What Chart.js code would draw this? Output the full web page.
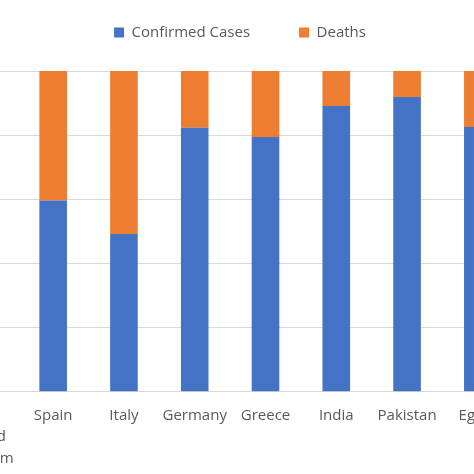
<!DOCTYPE html>
<html>
<head>
<meta charset="utf-8">
<script src="https://cdn.jsdelivr.net/npm/chart.js@4.4.1/dist/chart.umd.min.js"></script>
<style>
    html, body { margin: 0; padding: 0; background: #ffffff; overflow: hidden; }
    body { width: 474px; height: 474px; position: relative; }
    /* the reference is a crop of a wider chart, so the canvas hangs off both sides */
    #wrap { position: absolute; left: -104px; top: 0; width: 700px; height: 474px; }
</style>
</head>
<body>
<div id="wrap"><canvas id="shareChart"></canvas></div>
<script>
// Share of confirmed cases vs deaths per country (100% stacked)
// first and last categories sit outside the cropped view
const countries = [['The', 'United', 'Kingdom'], 'Spain', 'Italy', 'Germany', 'Greece', 'India', 'Pakistan', 'Egypt', 'Iran'];
const confirmedShare = [86.0, 59.6, 49.2, 82.3, 79.4, 89.1, 91.9, 82.5, 85.0];
const deathsShare = [14.0, 40.4, 50.8, 17.7, 20.6, 10.9, 8.1, 17.5, 15.0];
const yTicks = [0, 20, 40, 60, 80, 100];

const textColor = '#595959';
const gridColor = '#d9d9d9';
const font = { family: '"Open Sans", sans-serif', size: 15 };

// fixed legend height so the plot starts where the reference does
const legendHeight = {
    id: 'legendHeight',
    beforeInit(chart) {
        const fit = chart.legend.fit;
        chart.legend.fit = function() {
            fit.call(this);
            this.height = 95;
        };
    }
};

document.addEventListener('DOMContentLoaded', function() {
    const ctx = document.getElementById('shareChart');
    new Chart(ctx, {
        type: 'bar',
        data: {
            labels: countries,
            datasets: [{
                label: 'Confirmed Cases',
                data: confirmedShare,
                backgroundColor: '#4472c4',
                categoryPercentage: 1,
                barPercentage: 0.39
            }, {
                label: 'Deaths',
                data: deathsShare,
                backgroundColor: '#ed7d31',
                categoryPercentage: 1,
                barPercentage: 0.39
            }]
        },
        options: {
            responsive: true,
            maintainAspectRatio: false,
            animation: false,
            layout: {
                padding: { top: -24, left: 0, right: 12, bottom: -8 }
            },
            plugins: {
                legend: {
                    position: 'top',
                    labels: {
                        color: textColor,
                        font: font,
                        boxWidth: 10,
                        boxHeight: 10,
                        padding: 49
                    }
                },
                tooltip: { enabled: false }
            },
            scales: {
                x: {
                    stacked: true,
                    grid: { display: false, drawTicks: false },
                    border: { display: false },
                    ticks: {
                        color: textColor,
                        font: Object.assign({ lineHeight: 1.43 }, font),
                        padding: 13,
                        maxRotation: 0,
                        autoSkip: false
                    }
                },
                y: {
                    stacked: true,
                    min: 0,
                    max: 100,
                    afterFit: function(scale) { scale.width = 51; },
                    afterBuildTicks: function(scale) {
                        scale.ticks = yTicks.map(v => ({ value: v }));
                    },
                    grid: { color: gridColor, drawTicks: false },
                    border: { display: false },
                    ticks: {
                        color: textColor,
                        font: font,
                        padding: 8,
                        callback: v => v + '%'
                    }
                }
            }
        },
        plugins: [legendHeight]
    });
});
</script>
</body>
</html>
